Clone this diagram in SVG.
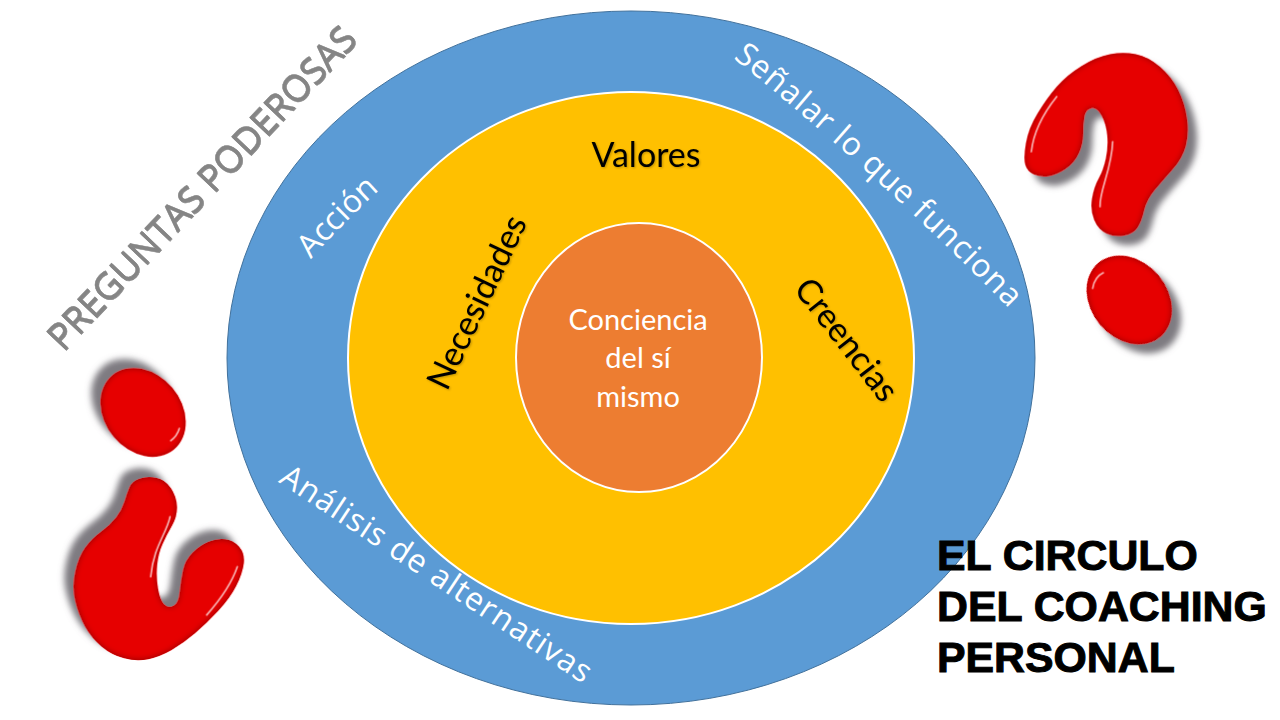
<svg xmlns="http://www.w3.org/2000/svg" xmlns:xlink="http://www.w3.org/1999/xlink" width="1280" height="720" viewBox="0 0 1280 720">
<style>
.ring{stroke:#fff;stroke-width:2}
.t{font-family:"Open Sans","Noto Sans","Liberation Sans",sans-serif;font-size:32px}
.l{font-family:Lato,"Open Sans","Liberation Sans",sans-serif;font-size:34px}
.w{fill:#fff}
.k{fill:#000;filter:url(#txtShadow)}
.title{font-family:"Liberation Sans",Arial,sans-serif;font-weight:bold;font-size:42.800px;fill:#000;stroke:#000;stroke-width:1}
.red{fill:#e60000}
.hl{fill:none;stroke:#fff;stroke-width:5;stroke-linecap:round;opacity:.7;filter:url(#soft)}
</style>
<defs>
<filter id="soft" x="-30%" y="-30%" width="160%" height="160%"><feGaussianBlur stdDeviation="1.500"/></filter>
<filter id="txtShadow" x="-10%" y="-10%" width="120%" height="120%">
<feGaussianBlur in="SourceAlpha" stdDeviation="1" result="b"/><feOffset in="b" dx=".8" dy=".8" result="o"/>
<feFlood flood-color="#000" flood-opacity=".25"/><feComposite in2="o" operator="in" result="s"/>
<feMerge><feMergeNode in="s"/><feMergeNode in="SourceGraphic"/></feMerge>
</filter>
<filter id="grayShadow" x="-5%" y="-5%" width="110%" height="110%">
<feGaussianBlur in="SourceAlpha" stdDeviation=".7" result="b"/><feOffset in="b" dx="1" dy="1" result="o"/>
<feFlood flood-color="#555" flood-opacity=".7"/><feComposite in2="o" operator="in" result="s"/>
<feMerge><feMergeNode in="s"/><feMergeNode in="SourceGraphic"/></feMerge>
</filter>
<filter id="puffA" x="-20%" y="-20%" width="150%" height="150%">
<feGaussianBlur in="SourceAlpha" stdDeviation="10" result="b"/>
<feOffset in="b" dx="26" dy="26" result="o"/>
<feFlood flood-color="#77747a" flood-opacity=".95"/><feComposite in2="o" operator="in" result="shadow"/>
<feGaussianBlur in="SourceAlpha" stdDeviation="9" result="e"/>
<feComposite in="SourceAlpha" in2="e" operator="arithmetic" k2="1" k3="-1" result="edge0"/>
<feFlood flood-color="#6a0000"/><feComposite in2="edge0" operator="in" result="edge"/>
<feMerge><feMergeNode in="shadow"/><feMergeNode in="SourceGraphic"/><feMergeNode in="edge"/></feMerge>
</filter>
<filter id="puffB" x="-30%" y="-30%" width="150%" height="150%">
<feGaussianBlur in="SourceAlpha" stdDeviation="10" result="b"/>
<feOffset in="b" dx="-26" dy="-26" result="o"/>
<feFlood flood-color="#77747a" flood-opacity=".95"/><feComposite in2="o" operator="in" result="shadow"/>
<feGaussianBlur in="SourceAlpha" stdDeviation="9" result="e"/>
<feComposite in="SourceAlpha" in2="e" operator="arithmetic" k2="1" k3="-1" result="edge0"/>
<feFlood flood-color="#6a0000"/><feComposite in2="edge0" operator="in" result="edge"/>
<feMerge><feMergeNode in="shadow"/><feMergeNode in="SourceGraphic"/><feMergeNode in="edge"/></feMerge>
</filter>
<path id="pSenalar" d="M733 58 Q880 175 1030 330"/>
<path id="pAnalisis" d="M278 482 Q430 582 610 702"/>
<path id="pAccion" d="M311 259 Q346 219 406 166"/>
<path id="pPreguntas" d="M63 352 L383 15"/>
<path id="pNecesidades" d="M447 392 L544 188"/>
<path id="pCreencias" d="M793 290 Q833 340 894 420"/>
</defs>
<rect width="1280" height="720" fill="#fff"/>
<g id="anillo-exterior"><ellipse cx="631" cy="358" rx="404" ry="347" fill="#5b9bd5" stroke="#41719c" stroke-width="1"/></g>
<g id="anillo-medio"><ellipse class="ring" cx="631" cy="358" rx="283" ry="266" fill="#ffc000"/></g>
<g id="centro"><ellipse class="ring" cx="639" cy="357.500" rx="123" ry="134.500" fill="#ed7d31"/>
<text class="l w" style="font-size:29px" text-anchor="middle"><tspan x="638" y="330">Conciencia</tspan><tspan x="638" y="368">del sí</tspan><tspan x="638" y="407">mismo</tspan></text></g>
<g id="senalar"><text class="t w" letter-spacing="1"><textPath xlink:href="#pSenalar" href="#pSenalar">Señalar lo que funciona</textPath></text></g>
<g id="analisis"><text class="t w" letter-spacing="1.100"><textPath xlink:href="#pAnalisis" href="#pAnalisis">Análisis de alternativas</textPath></text></g>
<g id="accion"><text class="t w"><textPath xlink:href="#pAccion" href="#pAccion">Acción</textPath></text></g>
<g id="preguntas"><text class="t" style="font-size:36.500px" fill="#858585" stroke="#858585" stroke-width=".5" filter="url(#grayShadow)"><textPath xlink:href="#pPreguntas" href="#pPreguntas">PREGUNTAS PODEROSAS</textPath></text></g>
<g id="valores"><text class="l k" x="646" y="167" text-anchor="middle">Valores</text></g>
<g id="necesidades"><text class="l k"><textPath xlink:href="#pNecesidades" href="#pNecesidades">Necesidades</textPath></text></g>
<g id="creencias"><text class="l k"><textPath xlink:href="#pCreencias" href="#pCreencias">Creencias</textPath></text></g>
<g id="titulo"><text class="title"><tspan x="937" y="570">EL CIRCULO</tspan><tspan x="937" y="621">DEL COACHING</tspan><tspan x="937" y="672">PERSONAL</tspan></text></g>
<g id="interrogacion-cierre" transform="translate(1000 30) scale(.33333)">
<g filter="url(#puffA)">
<path class="red" d="M77.500 340Q85 295 112.500 250Q140 205 170 170Q200 135 245 107.500Q290 80 330 72.500Q370 65 407.500 72.500Q445 80 480 110Q515 140 535 180Q555 220 561.500 265Q568 310 558 347.500Q548 385 519 417.500Q490 450 465 480Q440 510 432.500 542.500Q425 575 412.500 593.500Q400 612 372.500 617Q345 622 320 611Q295 600 282.500 570Q270 540 276 505Q282 470 296 445Q310 420 317.500 385Q325 350 321.500 315Q318 280 304 256Q290 232 274 235Q258 238 254 259Q250 280 250 310Q250 340 237.500 369Q225 398 197.500 417Q170 436 145 439Q120 442 101 433.500Q82 425 76 405Q70 385 77.500 340Z"/>
<ellipse class="red" cx="388" cy="810" rx="145" ry="115" transform="rotate(50 388 810)"/>
</g>
<path class="hl" d="M94 365C100 310 130 250 170 200M300 530C298 480 335 420 338 335M278 775C282 750 295 735 310 728"/>
</g>
<g id="interrogacion-apertura" transform="translate(50 350) scale(.33333)">
<g filter="url(#puffB)">
<ellipse class="red" cx="279" cy="187" rx="145" ry="115" transform="rotate(50 279 187)"/>
<path class="red" d="M237.500 412.500Q245 395 267.500 386.500Q290 378 317.500 383Q345 388 362.500 414Q380 440 381 470Q382 500 366 527.500Q350 555 337.500 582.500Q325 610 321.500 645Q318 680 324 715Q330 750 342.500 762.500Q355 775 370 767.500Q385 760 388.500 725Q392 690 398.500 660Q405 630 427.500 607.500Q450 585 475 575Q500 565 525 567.500Q550 570 567.500 590Q585 610 581.500 640Q578 670 559 707.500Q540 745 505 782.500Q470 820 435 850Q400 880 365 900Q330 920 295 927.500Q260 935 222.500 925Q185 915 155 890Q125 865 105 830Q85 795 75 752.500Q65 710 75 665Q85 620 105 592.500Q125 565 152.500 545Q180 525 197.500 502.500Q215 480 222.500 455Q230 430 237.500 412.500Z"/>
</g>
<path class="hl" d="M360 500C350 550 310 590 302 680M388 235C382 255 372 265 362 272M562 650C545 700 510 750 470 795"/>
</g>
</svg>
